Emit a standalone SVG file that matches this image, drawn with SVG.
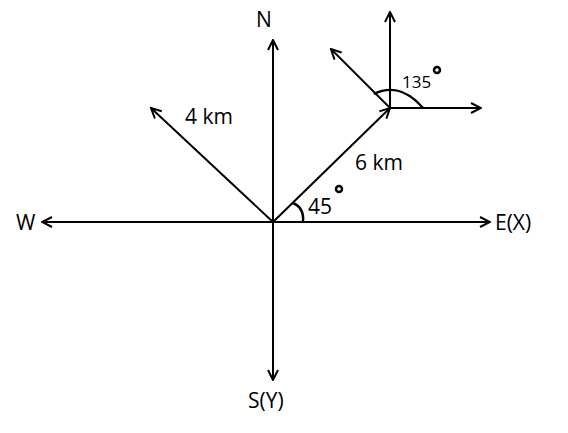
<svg xmlns="http://www.w3.org/2000/svg" width="568" height="433" viewBox="0 0 568 433">
<style>
.l{stroke:#000;stroke-width:2;fill:none;marker-end:url(#a)}
.t{font-family:"Open Sans","Noto Sans",sans-serif;font-size:21px;fill:#000}
.d{fill:none;stroke:#000;stroke-width:2.5}
</style>
<defs>
<marker id="a" viewBox="0 0 12 12" refX="11" refY="6" markerWidth="12" markerHeight="12" markerUnits="userSpaceOnUse" orient="auto">
<path d="M1,1 L11,6 L1,11" fill="none" stroke="#000" stroke-width="2"/>
</marker>
</defs>
<rect width="568" height="433" fill="#fff"/>
<g id="connectors">
<line class="l" x1="273" y1="222" x2="273" y2="40"/>
<line class="l" x1="273" y1="222" x2="273" y2="380"/>
<line class="l" x1="273" y1="222" x2="42" y2="222"/>
<line class="l" x1="273" y1="222" x2="490" y2="222"/>
<line class="l" x1="273" y1="222" x2="151" y2="108"/>
<line class="l" x1="273" y1="222" x2="390" y2="108"/>
<line class="l" x1="390" y1="108" x2="390" y2="12"/>
<line class="l" x1="390" y1="108" x2="481" y2="108"/>
<line class="l" x1="390" y1="108" x2="331" y2="49"/>
<path d="M374,94 C386,88 404,86 423,108" fill="none" stroke="#000" stroke-width="2.5"/>
<path d="M293,203 C300,206 304,212 303,222" fill="none" stroke="#000" stroke-width="2.5"/>
</g>
<g id="labels">
<text class="t" x="256" y="27">N</text>
<text class="t" x="16" y="230">W</text>
<text class="t" x="495" y="230">E(X)</text>
<text class="t" x="248" y="408">S(Y)</text>
<text class="t" x="185" y="124">4 km</text>
<text class="t" x="355" y="170">6 km</text>
<text class="t" x="308" y="214">45</text>
<circle class="d" cx="339" cy="189" r="3"/>
<text class="t" x="402" y="88" style="font-size:17px">135</text>
<circle class="d" cx="437" cy="70" r="3"/>
</g>
</svg>
